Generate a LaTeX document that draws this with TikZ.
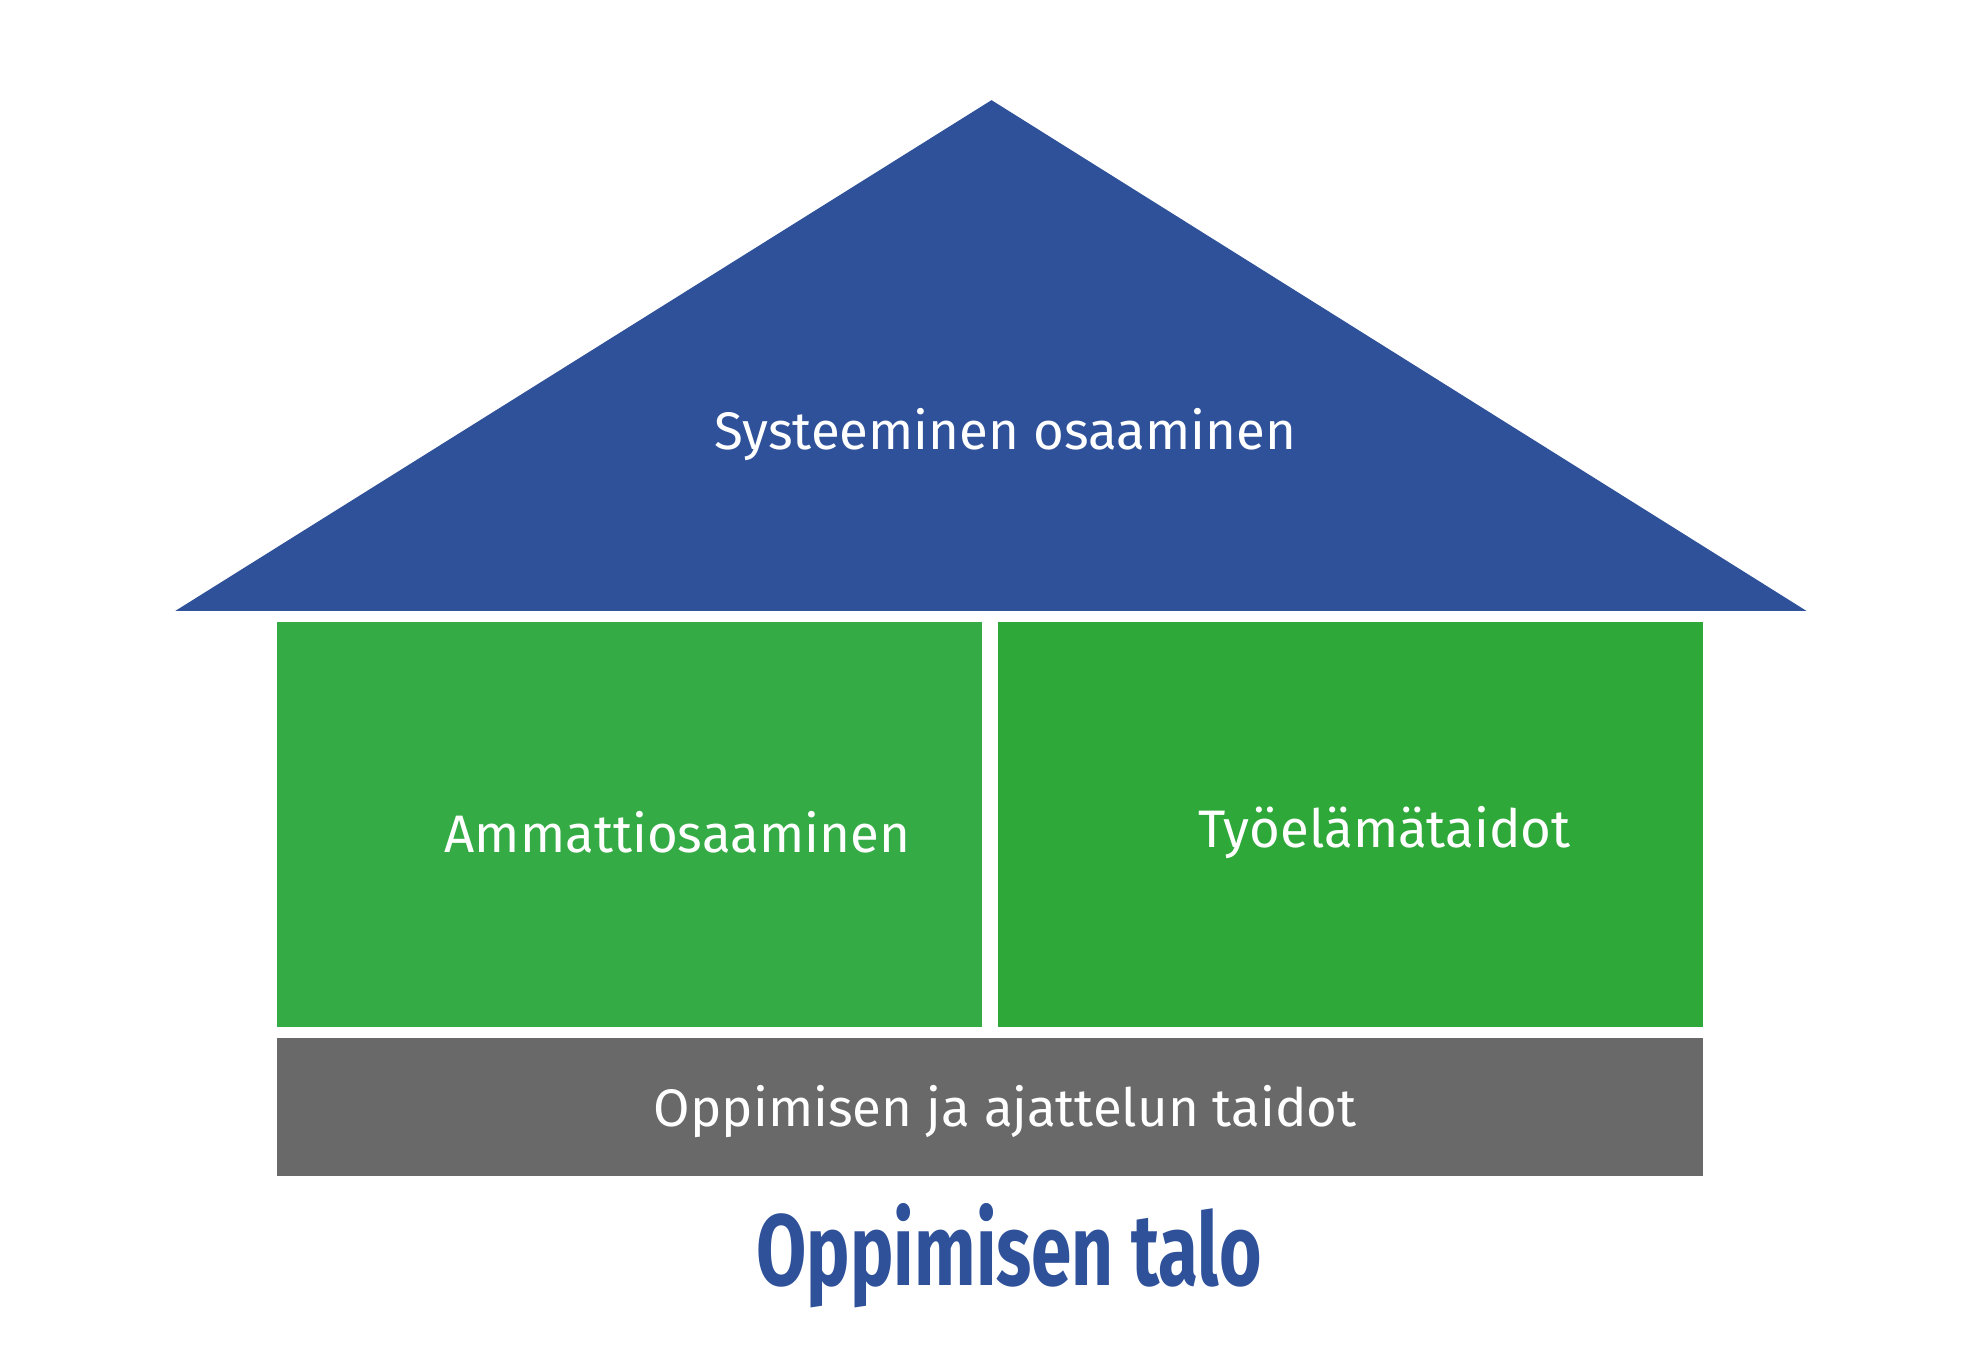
\documentclass[tikz,border=0pt]{standalone}
\usepackage{fontspec}
\setmainfont{Fira Sans}
\usetikzlibrary{positioning}
\definecolor{roofblue}{HTML}{2E519A}
\definecolor{wallgreen}{HTML}{34AB45}
\definecolor{wallgreenb}{HTML}{2FA83A}
\definecolor{basegray}{HTML}{696969}
\begin{document}
\begin{tikzpicture}[x=0.02cm,y=-0.02cm]
\tikzstyle{lbl}=[text=white,font=\fontsize{24}{28}\selectfont]
\useasboundingbox (0,0) rectangle (1568,1088);
% roof
\fill[roofblue] (140,488) -- (792,80) -- (1443,488) -- cycle;
\node[lbl] (roof) at (803,347) {Systeeminen osaaminen};
% walls
\fill[wallgreen] (221,497) rectangle (784,820);
\fill[wallgreenb] (797,497) rectangle (1360,820);
\node[lbl] (amm) at (541,665) {Ammattiosaaminen};
\node[lbl] (tyo) at (1106,665) {Työelämätaidot};
% base
\fill[basegray] (221,829) rectangle (1360,939);
\node[lbl] (base) at (803,888) {Oppimisen ja ajattelun taidot};
% title
\node[text=roofblue,font=\fontsize{46}{50}\selectfont\bfseries] (title) at (806,1003) {\scalebox{0.72}[1]{Oppimisen talo}};
\end{tikzpicture}
\end{document}
